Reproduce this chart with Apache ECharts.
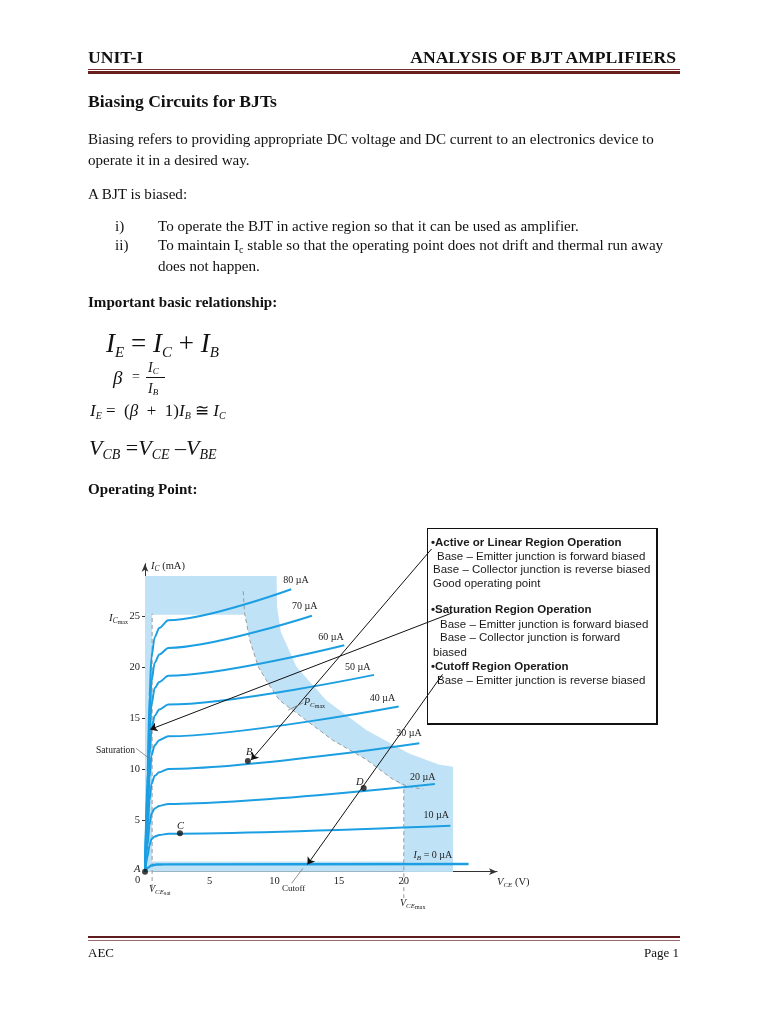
<!DOCTYPE html>
<html><head><meta charset="utf-8">
<script src="https://cdn.jsdelivr.net/npm/echarts@6/dist/echarts.min.js"></script>
<style>
html,body{margin:0;padding:0;background:#fff;}
#page{position:relative;width:768px;height:1024px;overflow:hidden;color:#111;font-family:'Liberation Serif','Times New Roman',serif;}
#chart{position:absolute;left:0;top:0;width:768px;height:1024px;}
.t{position:absolute;white-space:nowrap;line-height:1;z-index:5;}
.rule{position:absolute;left:88px;width:592px;}
#box{position:absolute;left:427px;top:528px;width:228px;height:194px;border:1px solid #111;border-right-width:2px;border-bottom-width:2px;z-index:4;}
</style></head><body><div id="page"><div id="chart"></div><div id="box"></div></div>
<script>
// ---------------- data ----------------
const curveNames = ['80 µA','70 µA','60 µA','50 µA','40 µA','30 µA','20 µA','10 µA','IB0'];
const ib80 = [[0,0],[0.2,9.8],[0.35,17.2],[0.5,21.1],[0.75,23.0],[1.1,23.9],[1.8,24.66],[11.3,27.7]];
const ib70 = [[0,0],[0.2,8.7],[0.35,15.3],[0.5,18.7],[0.75,20.5],[1.1,21.3],[1.8,21.94],[12.9,25.1]];
const ib60 = [[0,0],[0.2,7.6],[0.35,13.4],[0.5,16.4],[0.75,18.0],[1.1,18.6],[1.8,19.21],[15.4,22.2]];
const ib50 = [[0,0],[0.2,6.5],[0.35,11.4],[0.5,14.0],[0.75,15.3],[1.1,15.9],[1.8,16.39],[17.7,19.3]];
const ib40 = [[0,0],[0.2,5.3],[0.35,9.2],[0.5,11.4],[0.75,12.4],[1.1,12.9],[1.8,13.28],[19.6,16.2]];
const ib30 = [[0,0],[0.2,4.0],[0.35,7.0],[0.5,8.6],[0.75,9.4],[1.1,9.75],[1.8,10.07],[21.2,12.6]];
const ib20 = [[0,0],[0.2,2.6],[0.35,4.6],[0.5,5.7],[0.75,6.2],[1.1,6.45],[1.8,6.65],[22.4,8.6]];
const ib10 = [[0,0],[0.2,1.5],[0.35,2.6],[0.5,3.2],[0.75,3.45],[1.1,3.6],[1.8,3.72],[23.6,4.5]];
const ib0  = [[0,0],[0.25,0.4],[0.5,0.62],[0.9,0.7],[1.5,0.72],[25.0,0.75]];
const curves = [ib80,ib70,ib60,ib50,ib40,ib30,ib20,ib10,ib0];

const topRect    = [[0,25.2],[0,29],[10.15,29],[10.15,25.2]];
const pcBand     = [[7.59,29],[10.15,29],[10.2,26],[10.5,23.5],[11.7,20.1],[14.0,16.8],[17.1,13.9],[20.4,11.6],[22.7,10.5],[23.8,10.3],[23.8,0],[20,0],[20,8.35],[19.1,9.1],[17.1,11.0],[14.5,12.9],[12.4,14.9],[10.4,16.8],[9.6,18.3],[8.75,20.1],[8.1,22.7],[7.7,25.3],[7.59,27.5]];
const satStrip   = [[0,0],[0,25.2],[0.55,25.2],[0.55,0]];
const cutStrip   = [[0,0],[0,1.0],[23.8,1.0],[23.8,0]];
const blueRegions = [topRect,pcBand,satStrip,cutStrip];

const pcDashed   = [[7.59,27.5],[7.7,25.3],[8.1,22.7],[8.75,20.1],[9.6,18.3],[10.4,16.8],[12.4,14.9],[14.5,12.9],[17.1,11.0],[19.1,9.1],[20.3,8.35],[21.5,8.1]];
const vceSatLine = [[0.55,-1.6],[0.55,25.3]];
const vceMaxLine = [[20,-2.6],[20,8.35]];

const pointA = [0,0], pointB = [7.95,10.85], pointC = [2.7,3.76], pointD = [16.9,8.2];
const arrowActive = [[22.14,31.64],[8.2,10.95]];
const arrowSat    = [[23.7,25.36],[0.4,13.95]];
const arrowCut    = [[22.99,19.35],[12.55,0.7]];
const leaderSat   = [[-0.7,12.1],[0.33,11.1]];
const leaderCut   = [[11.33,-1.14],[12.2,0.33]];
const leaderPc    = [[11.07,15.85],[12.23,16.57]];

const xTicks = [5,10,15,20];
const yTicks = [5,10,15,20,25];

// ---------------- styles ----------------
const BLUE = '#1c9fe2', FILL = '#c0e2f7', DASH = '#9a9a9a', AX = '#333';
const SERIF = "'Liberation Serif','Times New Roman',serif";
const SANS = "'Liberation Sans',Arial,sans-serif";
const page = document.getElementById('page');

function T(x, base, html, fs, o) {
  o = o || {};
  const d = document.createElement('div'); d.className = 't';
  d.style.fontFamily = o.sans ? SANS : SERIF;
  d.style.fontSize = fs + 'px';
  d.style.top = (base - (o.sans ? 0.8465 : 0.8375) * fs) + 'px';
  if (o.right) d.style.right = (768 - x) + 'px'; else d.style.left = x + 'px';
  if (o.bold) d.style.fontWeight = 'bold';
  if (o.italic) d.style.fontStyle = 'italic';
  if (o.color) d.style.color = o.color;
  d.innerHTML = html; page.appendChild(d); return d;
}
function S(t, fs, dy, it) { return '<span style="font-size:'+fs+'px;position:relative;top:'+dy+'px;'+(it===false?'':'font-style:italic;')+'">'+t+'</span>'; }
function rule(top, h, color) { const d = document.createElement('div'); d.className='rule'; d.style.top=top+'px'; d.style.height=h+'px'; d.style.background=color; page.appendChild(d); }

// ---------------- document text ----------------
T(88, 63.5, 'UNIT-I', 17.6, {bold:true});
T(676, 63.5, 'ANALYSIS OF BJT AMPLIFIERS', 17.6, {bold:true, right:true});
rule(68.5, 1, '#7a3030'); rule(71, 3, '#6a1f1f');
T(88, 108, 'Biasing Circuits for BJTs', 17.6, {bold:true});
T(88, 144.5, 'Biasing refers to providing appropriate DC voltage and DC current to an electronics device to', 15.1);
T(88, 165.5, 'operate it in a desired way.', 15.1);
T(88, 199.5, 'A BJT is biased:', 15.1);
T(115, 231.5, 'i)', 15.1);
T(158, 231.5, 'To operate the BJT in active region so that it can be used as amplifier.', 15.1);
T(115, 250.5, 'ii)', 15.1);
T(158, 250.5, 'To maintain I'+S('c',10,3,false)+' stable so that the operating point does not drift and thermal run away', 15.1);
T(158, 271.5, 'does not happen.', 15.1);
T(88, 308, 'Important basic relationship:', 15.1, {bold:true});
// formulas
T(106, 353, '<i>I</i>'+S('E',15,5)+' = <i>I</i>'+S('C',15,5)+' + <i>I</i>'+S('B',15,5), 27);
T(113, 384, '<i>β</i>', 19);
T(132, 382, '=', 14);
T(148, 373, '<i>I</i>'+S('C',9,2), 14);
T(148, 394, '<i>I</i>'+S('B',9,2), 14);
(function(){ const d=document.createElement('div'); d.style.cssText='position:absolute;left:146px;top:377px;width:19px;height:1px;background:#111;z-index:5;'; page.appendChild(d); })();
T(90, 416, '<i>I</i>'+S('E',10,3)+' = &nbsp;(<i>β</i> &nbsp;+ &nbsp;1)<i>I</i>'+S('B',10,3)+' ≅ <i>I</i>'+S('C',10,3), 17);
T(89, 455, '<i>V</i>'+S('CB',14,4)+' =<i>V</i>'+S('CE',14,4)+' –<i>V</i>'+S('BE',14,4), 22);
T(88, 495, 'Operating Point:', 15.1, {bold:true});
// footer
rule(935.8, 2.6, '#5e1c1c'); rule(939.6, 1, '#9a6a6a');
T(88, 957, 'AEC', 13);
T(679, 957, 'Page 1', 13, {right:true});

// ---------------- annotation box text ----------------
const bx = [
  [431,547,'•Active or Linear Region Operation',true],
  [437,560.5,'Base – Emitter junction is forward biased',false],
  [433,574,'Base – Collector junction is reverse biased',false],
  [433,588,'Good operating point',false],
  [431,614,'•Saturation Region Operation',true],
  [440,628.5,'Base – Emitter junction is forward biased',false],
  [440,642,'Base – Collector junction is forward',false],
  [433,656.5,'biased',false],
  [431,670.5,'•Cutoff Region Operation',true],
  [437,685,'Base – Emitter junction is reverse biased',false]
];
bx.forEach(b => T(b[0], b[1], b[2], 11.5, {sans:true, bold:b[3], color:'#1a1a1a'}));

// ---------------- chart labels ----------------
const lc = '#222';
T(151, 570, '<i>I</i>'+S('C',7.5,2)+' (mA)', 10.5, {color:lc});
T(109, 621, '<i>I</i>'+S('C',7.5,2)+S('max',6,3,false), 11, {color:lc});
T(96, 754, 'Saturation', 9.5, {color:lc});
T(149, 892, '<i>V</i>'+S('CE',7,2)+S('sat',6,3,false), 10, {color:lc});
T(282, 892, 'Cutoff', 9, {color:lc});
T(400, 906, '<i>V</i>'+S('CE',7,2)+S('max',6,3,false), 10, {color:lc});
T(497, 886, '<i>V</i>'+S('CE',7,2)+' (V)', 10.5, {color:lc});
T(304, 705, '<i>P</i>'+S('C',7,2)+S('max',6,3,false), 10, {color:lc});
T(134, 873, 'A', 10.5, {italic:true, color:lc});
T(246, 756, 'B', 10.5, {italic:true, color:lc});
T(177, 830, 'C', 10.5, {italic:true, color:lc});
T(356, 786, 'D', 10.5, {italic:true, color:lc});
T(135, 884, '0', 10.5, {color:lc});

// ---------------- chart ----------------
const chart = echarts.init(document.getElementById('chart'), null, {renderer:'canvas'});
const lineSer = (data, color, width, dashed, z) => ({
  type:'line', data:data, symbol:'none', clip:false, silent:true, z:z,
  lineStyle:{color:color, width:width, type: dashed ? [4,3] : 'solid'}
});
const series = [];
series.push({
  type:'custom', coordinateSystem:'cartesian2d', clip:false, silent:true, z:1,
  data: blueRegions.map((r,i)=>[i]),
  renderItem: (params, api) => ({
    type:'polygon',
    shape:{points: blueRegions[params.dataIndex].map(p => api.coord(p))},
    style:{fill:FILL}
  })
});
series.push(lineSer(pcDashed, DASH, 1, true, 2));
series.push(lineSer(vceSatLine, DASH, 1, true, 2));
series.push(lineSer(vceMaxLine, DASH, 1, true, 2));
curves.forEach((c,i) => { const s = lineSer(c, BLUE, i === 8 ? 2.4 : 2, false, 3); s.smooth = 0.3; s.smoothMonotone = 'x'; series.push(s); });
series.push({
  type:'lines', coordinateSystem:'cartesian2d', clip:false, silent:true, z:4,
  symbol:['none','arrow'], symbolSize:7,
  lineStyle:{color:'#111', width:1, opacity:1, curveness:0},
  data:[arrowActive, arrowSat, arrowCut].map(c => ({coords:c}))
});
series.push({
  type:'lines', coordinateSystem:'cartesian2d', clip:false, silent:true, z:4,
  symbol:['none','none'],
  lineStyle:{color:'#777', width:0.8, opacity:1, curveness:0},
  data:[leaderSat, leaderCut, leaderPc].map(c => ({coords:c}))
});
series.push({
  type:'scatter', data:[pointA, pointB, pointC, pointD], symbolSize:6, clip:false, silent:true, z:5,
  itemStyle:{color:'#111'}
});

chart.setOption({
  animation:false,
  grid:{left:145, top:563.7, width:352, height:308},
  xAxis:{type:'value', min:0, max:27.2, interval:5,
    axisLine:{lineStyle:{color:AX, width:1}, symbol:['none','arrow'], symbolSize:[5,8]},
    axisTick:{inside:true, length:4, lineStyle:{color:AX}, customValues:xTicks},
    axisLabel:{customValues:xTicks, fontFamily:SERIF, fontSize:10.5, color:lc, margin:4},
    splitLine:{show:false}},
  yAxis:{type:'value', min:0, max:30.2, interval:5,
    axisLine:{show:true, lineStyle:{color:AX, width:1}, symbol:['none','arrow'], symbolSize:[5,8]},
    axisTick:{show:true, inside:false, length:3, lineStyle:{color:AX}, customValues:yTicks},
    axisLabel:{customValues:yTicks, fontFamily:SERIF, fontSize:10.5, color:lc, margin:5},
    splitLine:{show:false}},
  series: series
});

// curve labels placed from the line ends through the chart's scale
const labelOffsets = [[-8,-9],[-20,-10],[-26,-8],[-29,-8],[-29,-9],[-23,-10],[-25,-7],[-27,-11],[-55,-9]];
curves.forEach((c,i) => {
  const end = chart.convertToPixel({gridIndex:0}, c[c.length-1]);
  const html = curveNames[i] === 'IB0' ? '<i>I</i>'+S('B',7,2)+' = 0 µA' : curveNames[i];
  T(end[0]+labelOffsets[i][0], end[1]+labelOffsets[i][1]+3.5, html, 10, {color:lc});
});
</script></body></html>
